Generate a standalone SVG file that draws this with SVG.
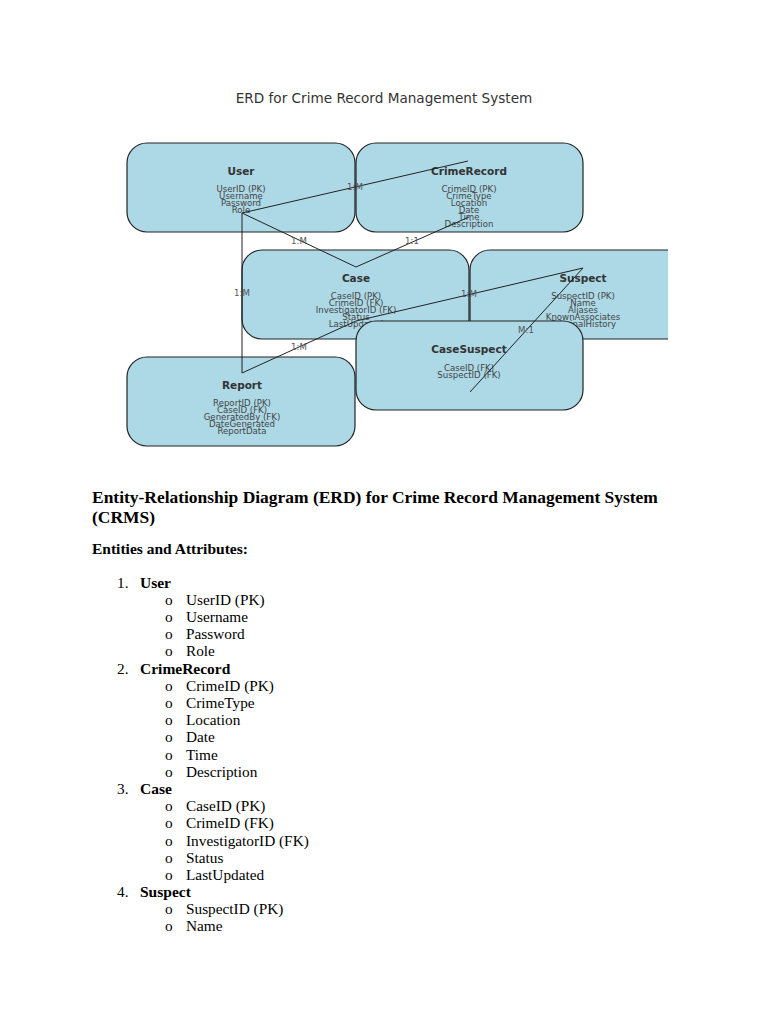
<svg xmlns="http://www.w3.org/2000/svg" width="768" height="1024" viewBox="0 0 768 1024">
<style>
.box{fill:#add8e6;stroke:#222;stroke-width:1.2}
.nm{font-family:"DejaVu Sans",sans-serif;font-size:10.5px;font-weight:bold;fill:#333;text-anchor:middle}
.at{font-family:"DejaVu Sans",sans-serif;font-size:8.6px;fill:#444;text-anchor:middle}
.lb{font-family:"DejaVu Sans",sans-serif;font-size:8.6px;fill:#555;text-anchor:middle}
.ln{stroke:#222;stroke-width:1;fill:none}
.h{font-family:"Liberation Serif",serif;font-weight:bold;fill:#000}
.t{font-family:"Liberation Serif",serif;font-size:15.3px;fill:#000}
.tb{font-family:"Liberation Serif",serif;font-size:15.5px;font-weight:bold;fill:#000}
</style>
<defs><clipPath id="clipS"><rect x="0" y="0" width="668" height="1024"/></clipPath></defs>
<rect width="768" height="1024" fill="#fff"/>
<text x="384" y="103" font-family="DejaVu Sans,sans-serif" font-size="13.6" fill="#333" text-anchor="middle">ERD for Crime Record Management System</text>

<g id="node-user"><rect class="box" x="127" y="143" width="228" height="89" rx="20"/>
<text class="nm" x="241" y="175">User</text>
<text class="at" x="241" y="192">UserID (PK)</text><text class="at" x="241" y="199">Username</text><text class="at" x="241" y="206">Password</text><text class="at" x="241" y="213">Role</text></g>

<g id="node-crimerecord"><rect class="box" x="356" y="143" width="227" height="89" rx="20"/>
<text class="nm" x="469" y="175">CrimeRecord</text>
<text class="at" x="469" y="192">CrimeID (PK)</text><text class="at" x="469" y="199">CrimeType</text><text class="at" x="469" y="206">Location</text><text class="at" x="469" y="213">Date</text><text class="at" x="469" y="220">Time</text><text class="at" x="469" y="227">Description</text></g>

<g id="node-case"><rect class="box" x="242" y="250" width="227" height="89" rx="20"/>
<text class="nm" x="356" y="282">Case</text>
<text class="at" x="356" y="299">CaseID (PK)</text><text class="at" x="356" y="306">CrimeID (FK)</text><text class="at" x="356" y="313">InvestigatorID (FK)</text><text class="at" x="356" y="320">Status</text><text class="at" x="356" y="327">LastUpdated</text></g>

<g id="node-suspect" clip-path="url(#clipS)"><rect class="box" x="470" y="250" width="227" height="89" rx="20"/>
<text class="nm" x="583" y="282">Suspect</text>
<text class="at" x="583" y="299">SuspectID (PK)</text><text class="at" x="583" y="306">Name</text><text class="at" x="583" y="313">Aliases</text><text class="at" x="583" y="320">KnownAssociates</text><text class="at" x="583" y="327">CriminalHistory</text></g>

<g id="node-casesuspect"><rect class="box" x="356" y="321" width="227" height="89" rx="20"/>
<text class="nm" x="469" y="353">CaseSuspect</text>
<text class="at" x="469" y="371">CaseID (FK)</text><text class="at" x="469" y="378">SuspectID (FK)</text></g>

<g id="node-report"><rect class="box" x="127" y="357" width="228" height="89" rx="20"/>
<text class="nm" x="242" y="389">Report</text>
<text class="at" x="242" y="406">ReportID (PK)</text><text class="at" x="242" y="413">CaseID (FK)</text><text class="at" x="242" y="420">GeneratedBy (FK)</text><text class="at" x="242" y="427">DateGenerated</text><text class="at" x="242" y="434">ReportData</text></g>

<g id="connectors">
<line class="ln" x1="242" y1="213" x2="468" y2="161"/>
<line class="ln" x1="242" y1="213" x2="356" y2="267"/>
<line class="ln" x1="469" y1="217" x2="356" y2="267"/>
<line class="ln" x1="242" y1="213" x2="242" y2="373"/>
<line class="ln" x1="356" y1="321" x2="242" y2="373"/>
<line class="ln" x1="356" y1="321" x2="583" y2="268"/>
<line class="ln" x1="583" y1="268" x2="470" y2="392"/>
<text class="lb" x="355" y="190">1:M</text>
<text class="lb" x="299" y="244">1:M</text>
<text class="lb" x="412" y="244">1:1</text>
<text class="lb" x="242" y="296">1:M</text>
<text class="lb" x="469" y="297">1:M</text>
<text class="lb" x="299" y="350">1:M</text>
<text class="lb" x="526" y="333">M:1</text>
</g>

<text class="h" x="92" y="503" font-size="17.45">Entity-Relationship Diagram (ERD) for Crime Record Management System</text>
<text class="h" x="92" y="523" font-size="17.45">(CRMS)</text>
<text class="tb" x="92" y="554">Entities and Attributes:</text>

<g class="t">
<text class="t" x="117" y="588">1.</text><text class="tb" x="140" y="588">User</text>
<text class="t" x="165" y="605">o</text><text class="t" x="186" y="605">UserID (PK)</text>
<text class="t" x="165" y="622">o</text><text class="t" x="186" y="622">Username</text>
<text class="t" x="165" y="639">o</text><text class="t" x="186" y="639">Password</text>
<text class="t" x="165" y="656">o</text><text class="t" x="186" y="656">Role</text>
<text class="t" x="117" y="674">2.</text><text class="tb" x="140" y="674">CrimeRecord</text>
<text class="t" x="165" y="691">o</text><text class="t" x="186" y="691">CrimeID (PK)</text>
<text class="t" x="165" y="708">o</text><text class="t" x="186" y="708">CrimeType</text>
<text class="t" x="165" y="725">o</text><text class="t" x="186" y="725">Location</text>
<text class="t" x="165" y="742">o</text><text class="t" x="186" y="742">Date</text>
<text class="t" x="165" y="760">o</text><text class="t" x="186" y="760">Time</text>
<text class="t" x="165" y="777">o</text><text class="t" x="186" y="777">Description</text>
<text class="t" x="117" y="794">3.</text><text class="tb" x="140" y="794">Case</text>
<text class="t" x="165" y="811">o</text><text class="t" x="186" y="811">CaseID (PK)</text>
<text class="t" x="165" y="828">o</text><text class="t" x="186" y="828">CrimeID (FK)</text>
<text class="t" x="165" y="846">o</text><text class="t" x="186" y="846">InvestigatorID (FK)</text>
<text class="t" x="165" y="863">o</text><text class="t" x="186" y="863">Status</text>
<text class="t" x="165" y="880">o</text><text class="t" x="186" y="880">LastUpdated</text>
<text class="t" x="117" y="897">4.</text><text class="tb" x="140" y="897">Suspect</text>
<text class="t" x="165" y="914">o</text><text class="t" x="186" y="914">SuspectID (PK)</text>
<text class="t" x="165" y="931">o</text><text class="t" x="186" y="931">Name</text>
</g>
</svg>
